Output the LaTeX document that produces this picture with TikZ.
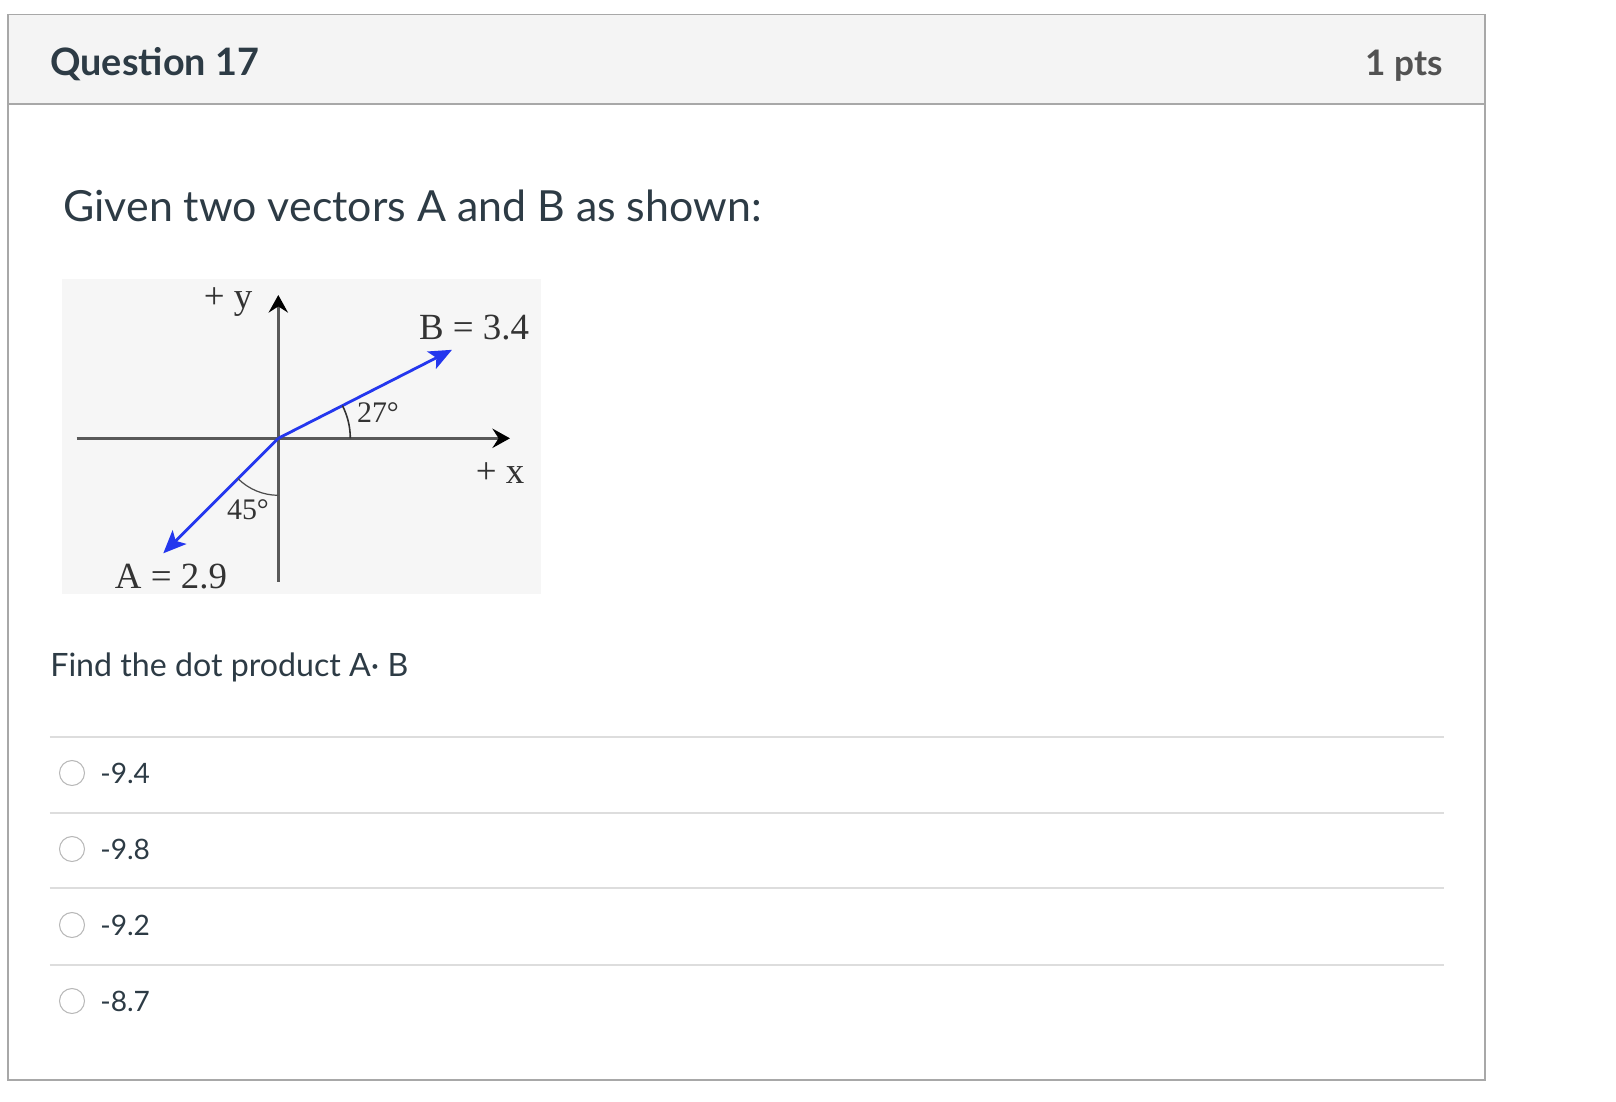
\documentclass[tikz,border=0pt]{standalone}
\usepackage{fontspec}
\setmainfont{Lato}
\newfontfamily\figfont{Liberation Serif}
\usetikzlibrary{arrows.meta}

\definecolor{quiztext}{HTML}{2D3B45}
\definecolor{headbg}{HTML}{F4F4F4}
\definecolor{framegray}{HTML}{A8A8A8}
\definecolor{rulegray}{HTML}{DDDDDD}
\definecolor{figbg}{HTML}{F6F6F6}
\definecolor{vecblue}{HTML}{2437EE}

\tikzset{
  qtext/.style={anchor=base west, inner sep=0pt, text=quiztext},
  answer/.style={qtext, font=\fontsize{16}{19}\selectfont},
  radio/.style={circle, draw=black!28, fill=white, line width=0.6pt, minimum size=0.5cm, inner sep=0pt},
  optrule/.style={draw=rulegray, line width=0.9pt},
  axis/.style={draw=black!65, line width=1.5pt, -{Stealth[length=10pt,width=11pt,inset=3.5pt,color=black]}},
  vecline/.style={draw=vecblue, line width=1.6pt, -{Stealth[length=13pt,width=11pt,inset=3pt]}},
  figlabel/.style={inner sep=0pt, text=black!80, font=\figfont\fontsize{21}{24}\selectfont},
  anglabel/.style={figlabel, font=\figfont\fontsize{17}{20}\selectfont}
}

\begin{document}
\begin{tikzpicture}[x=0.02cm, y=-0.02cm]
  \useasboundingbox (0,0) rectangle (1616,1102);

  % question frame and header
  \fill[headbg] (8.2,14.4) rectangle (1485,104);
  \draw[framegray, line width=0.9pt] (8.2,104) -- (1485,104);
  \draw[framegray, line width=0.9pt] (8.2,14.4) rectangle (1485,1080);
  \node[qtext, font=\bfseries\fontsize{21.5}{25}\selectfont] (qtitle) at (50,75) {Question 17};
  \node[qtext, anchor=base east, text=black!68, font=\bfseries\fontsize{20}{24}\selectfont] (qpts) at (1443,75) {1 pts};

  \node[qtext, font=\fontsize{24.4}{29}\selectfont] (given) at (63,221.5) {Given two vectors A and B as shown:};

  % vector figure
  \fill[figbg] (62,279) rectangle (541,594);
  \coordinate (O) at (278.3,438.3);
  \coordinate (xl) at (76.7,438.3);
  \coordinate (xr) at (510,438.3);
  \coordinate (yb) at (278.3,581.7);
  \coordinate (yt) at (278.3,295);
  \coordinate (Btip) at (452,349.8);
  \coordinate (Atip) at (163.3,553.3);
  \draw[axis] (xl) -- (xr);
  \draw[axis] (yb) -- (yt);
  \draw[vecline] (O) -- (Btip);
  \draw[vecline] (O) -- (Atip);
  \draw[black!80, line width=0.9pt] (350.3,438.3) arc[start angle=0, end angle=-27, radius=72];
  \draw[black!70, line width=0.7pt] (278.3,495.3) arc[start angle=90, end angle=135, radius=57];

  \node[figlabel] (ylab) at (228,302) {+ y};
  \node[figlabel] (xlab) at (500,473) {+ x};
  \node[figlabel] (Blab) at (474,328) {B = 3.4};
  \node[figlabel] (Alab) at (171,577) {A = 2.9};
  \node[anglabel] (ang27) at (378,413) {27°};
  \node[anglabel] (ang45) at (248,510) {45°};

  \node[qtext, font=\fontsize{18.3}{22}\selectfont] (find) at (50,676) {Find the dot product A· B};

  % answer options
  \draw[optrule] (49.5,737) -- (1444,737);
  \draw[optrule] (49.5,813) -- (1444,813);
  \draw[optrule] (49.5,888) -- (1444,888);
  \draw[optrule] (49.5,965) -- (1444,965);
  \node[radio] (r1) at (72,773) {};
  \node[radio] (r2) at (72,849) {};
  \node[radio] (r3) at (72,925) {};
  \node[radio] (r4) at (72,1001) {};
  \node[answer] (a1) at (100,783) {-9.4};
  \node[answer] (a2) at (100,859) {-9.8};
  \node[answer] (a3) at (100,935) {-9.2};
  \node[answer] (a4) at (100,1011) {-8.7};
\end{tikzpicture}
\end{document}
